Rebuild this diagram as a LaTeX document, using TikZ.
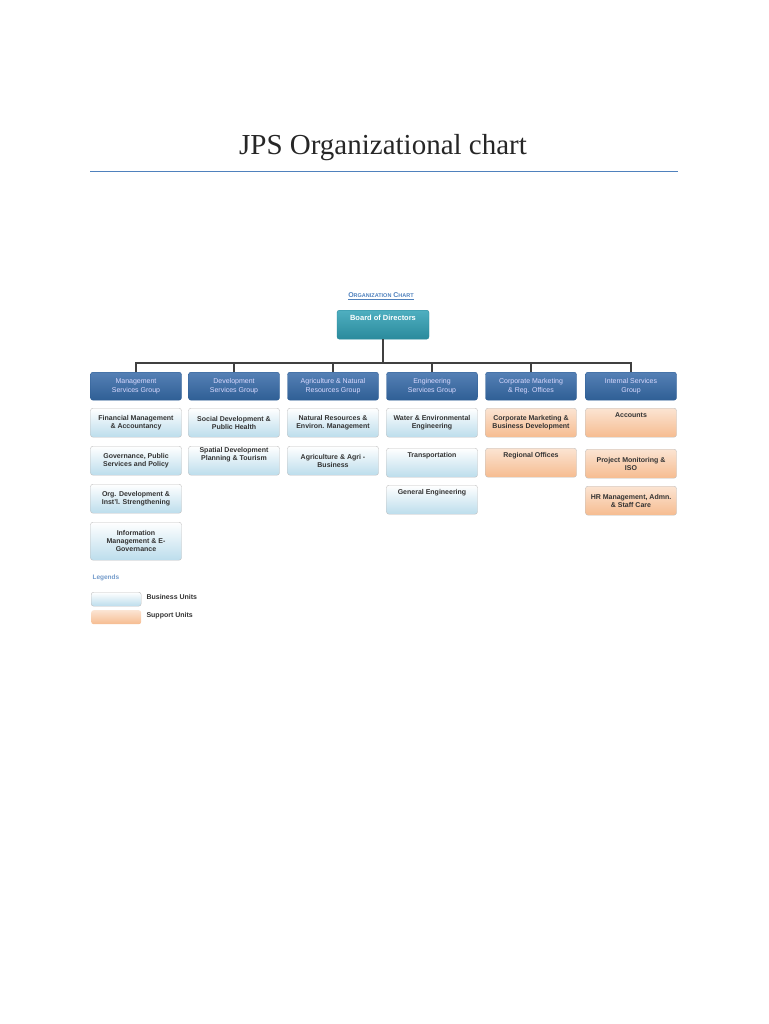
\documentclass[tikz,border=0pt]{standalone}
\usepackage{fontspec}
\setmainfont{Liberation Sans}
\newfontfamily\titlefont{Liberation Serif}
\usetikzlibrary{positioning}
\definecolor{grp}{HTML}{2F5F95}
\definecolor{grptop}{HTML}{5580B5}
\definecolor{brd}{HTML}{2A8A9C}
\definecolor{brdtop}{HTML}{4FAFC0}
\definecolor{bu}{HTML}{BCDDEC}
\definecolor{su}{HTML}{F6BC90}
\definecolor{rulec}{HTML}{4F81BD}
\begin{document}
\begin{tikzpicture}[x=1pt,y=-1pt,
  base/.style={rounded corners=2.5pt,minimum width=91pt,align=center,font=\fontsize{7}{8}\selectfont\bfseries,inner sep=1pt,draw=black!25},
  grpbox/.style={base,top color=grptop,bottom color=grp,text=white!85!blue,minimum height=28pt,draw=grp},
  bubox/.style={base,top color=white,bottom color=bu,text=black!80,minimum height=29pt},
  subox/.style={base,top color=su!40,bottom color=su,text=black!80,minimum height=29pt},
  conn/.style={draw=black!75,line width=1.6pt}]
\useasboundingbox (0,0) rectangle (768,1024);
\node[font=\titlefont\fontsize{29}{32}\selectfont,text=black!85] (title) at (383,148) {JPS Organizational chart};
\coordinate (rl) at (90,171); \coordinate (rr) at (678,171);
\draw[draw=rulec,line width=0.7pt] (rl) -- (rr);
\node[font=\fontsize{7}{8}\selectfont\bfseries,text=rulec] (oc) at (381,296) {\underline{O{\fontsize{5.5}{6}\selectfont RGANIZATION} C{\fontsize{5.5}{6}\selectfont HART}}};
\node[base,top color=brdtop,bottom color=brd,draw=brd,text=white,minimum width=92pt,minimum height=29pt,font=\fontsize{7.5}{8.5}\selectfont\bfseries,anchor=north] (bd) at (383,310) {Board of Directors\\[6pt]};
\foreach \n/\x/\t in {g1/136/{Management\\Services Group},g2/234/{Development\\Services Group},g3/333/{Agriculture \& Natural\\Resources Group},g4/432/{Engineering\\Services Group},g5/531/{Corporate Marketing\\\& Reg. Offices},g6/631/{Internal Services\\Group}}
  \node[grpbox,anchor=north,font=\fontsize{7}{8.5}\selectfont] (\n) at (\x,372) {\t};
\coordinate (bar) at (383,363);
\draw[conn] (bd.south) -- (bar);
\draw[conn] (g1.north) |- (bar) -| (g6.north);
\foreach \n in {g2,g3,g4,g5} \draw[conn] (\n.north) -- (\n.north |- bar);
% column 1
\node[bubox,anchor=north] (a1) at (136,408) {Financial Management\\\& Accountancy};
\node[bubox,anchor=north] (a2) at (136,446) {Governance, Public\\Services and Policy};
\node[bubox,anchor=north] (a3) at (136,484) {Org. Development \&\\Inst'l. Strengthening};
\node[bubox,anchor=north,minimum height=38pt] (a4) at (136,522) {Information\\Management \& E-\\Governance};
% column 2
\node[bubox,anchor=north] (b1) at (234,408) {Social Development \&\\Public Health};
\node[bubox,anchor=north] (b2) at (234,446) {Spatial Development\\Planning \& Tourism\\[5pt]};
% column 3
\node[bubox,anchor=north] (c1) at (333,408) {Natural Resources \&\\Environ. Management};
\node[bubox,anchor=north] (c2) at (333,446) {Agriculture \& Agri -\\Business};
% column 4
\node[bubox,anchor=north] (d1) at (432,408) {Water \& Environmental\\Engineering};
\node[bubox,anchor=north] (d2) at (432,448) {Transportation\\[8pt]};
\node[bubox,anchor=north] (d3) at (432,485) {General Engineering\\[8pt]};
% column 5
\node[subox,anchor=north] (e1) at (531,408) {Corporate Marketing \&\\Business Development};
\node[subox,anchor=north] (e2) at (531,448) {Regional Offices\\[8pt]};
% column 6
\node[subox,anchor=north] (f1) at (631,408) {Accounts\\[8pt]};
\node[subox,anchor=north] (f2) at (631,449) {Project Monitoring \&\\ISO};
\node[subox,anchor=north] (f3) at (631,486) {HR Management, Admn.\\\& Staff Care};
% legend
\node[font=\fontsize{6.5}{7}\selectfont\bfseries,text=rulec!80,anchor=west] (lg) at (89,578) {Legends};
\node[base,top color=white,bottom color=bu,minimum width=50pt,minimum height=14pt,anchor=north west] (lb) at (91,592) {};
\node[base,top color=su!40,bottom color=su,minimum width=50pt,minimum height=14pt,anchor=north west,draw=none] (ls) at (91,610) {};
\node[font=\fontsize{7}{8}\selectfont\bfseries,text=black!80,anchor=west] (lbt) at (143,597) {Business Units};
\node[font=\fontsize{7}{8}\selectfont\bfseries,text=black!80,anchor=west] (lst) at (143,616) {Support Units};
\end{tikzpicture}
\end{document}
